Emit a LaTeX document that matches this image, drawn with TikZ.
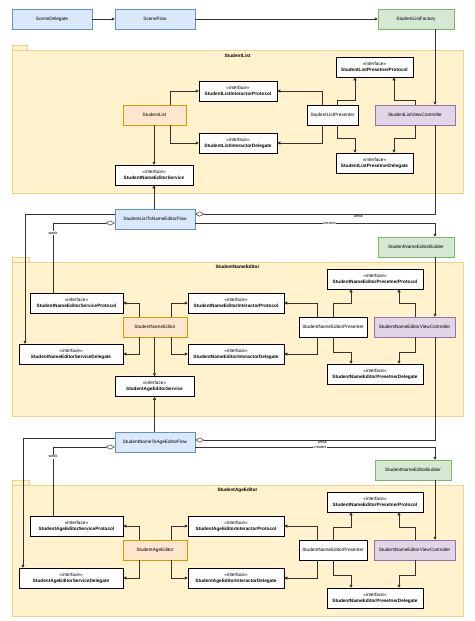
\documentclass[tikz,border=0pt]{standalone}
\usepackage{fontspec}
\setmainfont{Liberation Sans}
\usetikzlibrary{arrows.meta,calc}
\definecolor{bluef}{HTML}{DAE8FC}\definecolor{blued}{HTML}{6C8EBF}
\definecolor{greenf}{HTML}{D5E8D4}\definecolor{greend}{HTML}{82B366}
\definecolor{orangef}{HTML}{FFE6CC}\definecolor{oranged}{HTML}{D79B00}
\definecolor{purplef}{HTML}{E1D5E7}\definecolor{purpled}{HTML}{9673A6}
\definecolor{pkgf}{HTML}{FFF2CC}\definecolor{pkgd}{HTML}{E8D490}
\definecolor{linec}{HTML}{333333}
\newcommand\ifc[1]{«interface»\\\textbf{#1}}
\begin{document}
\begin{tikzpicture}[x=1pt,y=-1pt,
  base/.style={draw,line width=0.5pt,inner sep=0pt,minimum height=20pt,align=center,
    font=\fontsize{4.7}{5.8}\selectfont},
  ibox/.style={base,fill=white,draw=black},
  bluebox/.style={base,fill=bluef,draw=blued},
  greenbox/.style={base,fill=greenf,draw=greend},
  orangebox/.style={base,fill=orangef,draw=oranged},
  purplebox/.style={base,fill=purplef,draw=purpled},
  pkg/.style={fill=pkgf,draw=pkgd,line width=0.5pt},
  pkgtitle/.style={font=\fontsize{4.7}{5.8}\selectfont\bfseries,inner sep=0pt},
  conn/.style={draw=linec,line width=0.5pt},
  arr/.style={conn,-{Triangle[length=3pt,width=3pt]}},
  agg/.style={conn,{Diamond[open,length=9pt,width=5pt]}-},
  aggarr/.style={conn,{Diamond[open,length=9pt,width=5pt]}-{Triangle[length=3pt,width=3pt]}},
  lbl/.style={font=\fontsize{3.8}{4.5}\selectfont,inner sep=0.6pt},
]
\useasboundingbox (0,0) rectangle (474,621);
\coordinate (col) at (435,0);

% ---------- top row
\node[bluebox,minimum width=80pt] (sd) at (52,19) {SceneDelegate};
\node[bluebox,minimum width=80pt] (sf) at (155,19) {SceneFlow};
\node[greenbox,minimum width=76pt] (slf) at (416,19) {StudentListFactory};
\draw[arr] (sd) -- (sf);
\draw[arr] (sf) -- (slf);

% ---------- package StudentList
\draw[pkg] (12,45) rectangle (27,50);
\draw[pkg] (12,50) rectangle (463,193);
\node[pkgtitle] (t1) at (237.5,55.5) {StudentList};

\node[orangebox,minimum width=63pt] (sl) at (154.5,115) {StudentList};
\node[ibox,minimum width=78pt] (slip) at (238,91) {\ifc{StudentListInteractorProtocol}};
\node[ibox,minimum width=78pt] (slid) at (238,143) {\ifc{StudentListInteractorDelegate}};
\node[ibox,minimum width=78pt] (snes) at (154,175) {\ifc{StudentNameEditorService}};
\node[ibox,minimum width=51pt] (slp) at (332.5,115) {StudentListPresenter};
\node[ibox,minimum width=77pt] (slpp) at (374.5,67) {\ifc{StudentListPresetnerProtocol}};
\node[ibox,minimum width=77pt] (slpd) at (374.5,163) {\ifc{StudentListPresetnerDelegate}};
\node[purplebox,minimum width=80pt] (slvc) at (415,115) {StudentListViewController};

\draw[arr] ([xshift=15.5]sl.north) |- (slip.west);
\draw[arr] ([xshift=15.5]sl.south) |- (slid.west);
\draw[arr] (sl.south -| snes.north) -- (snes.north);
\draw[arr] ([xshift=-10.5]slp.north) |- (slip.east);
\draw[arr] ([xshift=-10.5]slp.south) |- (slid.east);
\draw[arr] ([xshift=4.5]slp.north) -- ++(0,-5) -| ([xshift=-19.5]slpp.south);
\draw[arr] ([xshift=4.5]slp.south) -- ++(0,13) -| ([xshift=-19.5]slpd.north);
\draw[arr] (slvc.north) -- ++(0,-5) -| ([xshift=19.5]slpp.south);
\draw[arr] (slvc.south) -- ++(0,13) -| ([xshift=19.5]slpd.north);
\draw[arr] (col |- slf.south) -- (col |- slvc.north);

% ---------- flow 1
\node[bluebox,minimum width=80pt] (slnef) at (155,219) {StudentListToNameEditorFlow};
\node[greenbox,minimum width=76pt] (snb1) at (416,247) {StudentNameEditorBuilder};
\draw[arr] (snes.south |- slnef.north) -- (snes.south);
\draw[agg] ([yshift=5pt]slnef.east) -| (col |- slvc.south)
   node[lbl,pos=0.34,below] {weak};
\draw[arr] ([yshift=-4pt]slnef.east) -| (col |- snb1.north)
   node[lbl,pos=0.28,fill=white] {creates};

% ---------- package StudentNameEditor
\draw[pkg] (12,257) rectangle (29,262);
\draw[pkg] (12,262) rectangle (463,416);
\node[pkgtitle] (t2) at (237.5,267) {StudentNameEditor};

\node[ibox,minimum width=93pt] (snesp) at (76.5,303) {\ifc{StudentNameEditorServiceProtocol}};
\node[ibox,minimum width=104pt] (snesd) at (71,354) {\ifc{StudentNameEditorServiceDelegate}};
\node[orangebox,minimum width=64pt] (sne) at (155,327) {StudentNameEditor};
\node[ibox,minimum width=96pt] (sneip) at (236,303) {\ifc{StudentNameEditorInteractorProtocol}};
\node[ibox,minimum width=96pt] (sneid) at (236,354) {\ifc{StudentNameEditorInteractorDelegate}};
\node[ibox,minimum width=79pt] (saes) at (154.5,386.5) {\ifc{StudentAgeEditorService}};
\node[ibox,minimum width=68pt] (snep) at (333,327) {StudentNameEditorPresenter};
\node[ibox,minimum width=96pt] (snepp) at (375,279) {\ifc{StudentNameEditorPresetnerProtocol}};
\node[ibox,minimum width=96pt] (snepd) at (375,374) {\ifc{StudentNameEditorPresetnerDelegate}};
\node[purplebox,minimum width=81pt] (snevc) at (414.5,327) {StudentNameEditorViewController};

\draw[arr] ([xshift=-16]sne.north) |- (snesp.east);
\draw[arr] ([xshift=-16]sne.south) |- (snesd.east);
\draw[arr] ([xshift=16]sne.north) |- (sneip.west);
\draw[arr] ([xshift=16]sne.south) |- (sneid.west);
\draw[arr] (sne.south -| saes.north) -- (saes.north);
\draw[arr] ([xshift=-16]snep.north) |- (sneip.east);
\draw[arr] ([xshift=-16]snep.south) |- (sneid.east);
\draw[arr] (snep.north) -- ++(0,-14) -| ([xshift=-24]snepp.south);
\draw[arr] (snep.south) -- ++(0,15) -| ([xshift=-24]snepd.north);
\draw[arr] ([xshift=0.5]snevc.north) -- ++(0,-14) -| ([xshift=24]snepp.south);
\draw[arr] ([xshift=0.5]snevc.south) -- ++(0,15) -| ([xshift=24]snepd.north);
\draw[arr] (col |- snb1.south) -- (col |- snevc.north);

% flow 1 left connectors
\draw[arr] ([yshift=5pt]slnef.west) -| ([xshift=-46]snesd.north);
\draw[agg] ([yshift=-4pt]slnef.west) -| ([xshift=-23.5]snesp.north)
   node[lbl,pos=0.57,fill=white] {weak};

% ---------- flow 2
\node[bluebox,minimum width=80pt] (snaef) at (155,442) {StudentNameToAgeEditorFlow};
\node[greenbox,minimum width=76pt] (snb2) at (413,470) {StudentNameEditorBuilder};
\draw[arr] (saes.south |- snaef.north) -- (saes.south);
\draw[agg] ([yshift=2pt]snaef.east) -| (col |- snevc.south)
   node[lbl,pos=0.265,below] {weak};
\draw[arr] ([yshift=-5pt]snaef.east) -| (col |- snb2.north)
   node[lbl,pos=0.26,fill=white] {creates};

% ---------- package StudentAgeEditor
\draw[pkg] (12,480) rectangle (29,485);
\draw[pkg] (12,485) rectangle (463,616);
\node[pkgtitle] (t3) at (237.5,490) {StudentAgeEditor};

\node[ibox,minimum width=93pt] (saesp) at (76.5,526) {\ifc{StudentAgeEditorServiceProtocol}};
\node[ibox,minimum width=104pt] (saesd) at (71,578) {\ifc{StudentAgeEditorServiceDelegate}};
\node[orangebox,minimum width=64pt] (sae) at (155,550) {StudentAgeEditor};
\node[ibox,minimum width=96pt] (saeip) at (236,526) {\ifc{StudentAgeEditorInteractorProtocol}};
\node[ibox,minimum width=96pt] (saeid) at (236,578) {\ifc{StudentAgeEditorInteractorDelegate}};
\node[ibox,minimum width=68pt] (saep) at (333,550) {StudentNameEditorPresenter};
\node[ibox,minimum width=96pt] (saepp) at (375,502) {\ifc{StudentNameEditorPresetnerProtocol}};
\node[ibox,minimum width=96pt] (saepd) at (375,598) {\ifc{StudentNameEditorPresetnerDelegate}};
\node[purplebox,minimum width=81pt] (savc) at (414.5,550) {StudentNameEditorViewController};

\draw[arr] ([xshift=-16]sae.north) |- (saesp.east);
\draw[arr] ([xshift=-16]sae.south) |- (saesd.east);
\draw[arr] ([xshift=16]sae.north) |- (saeip.west);
\draw[arr] ([xshift=16]sae.south) |- (saeid.west);
\draw[arr] ([xshift=-16]saep.north) |- (saeip.east);
\draw[arr] ([xshift=-16]saep.south) |- (saeid.east);
\draw[arr] (saep.north) -- ++(0,-13) -| ([xshift=-24]saepp.south);
\draw[arr] (saep.south) -- ++(0,15) -| ([xshift=-24]saepd.north);
\draw[arr] ([xshift=0.5]savc.north) -- ++(0,-13) -| ([xshift=24]saepp.south);
\draw[arr] ([xshift=0.5]savc.south) -- ++(0,15) -| ([xshift=24]saepd.north);
\draw[arr] (col |- snb2.south) -- (col |- savc.north);

% flow 2 left connectors
\draw[arr] ([yshift=4pt]snaef.west) -| ([xshift=-48]saesd.north);
\draw[agg] ([yshift=-5pt]snaef.west) -| ([xshift=-23.5]saesp.north)
   node[lbl,pos=0.57,fill=white] {weak};
\end{tikzpicture}
\end{document}
